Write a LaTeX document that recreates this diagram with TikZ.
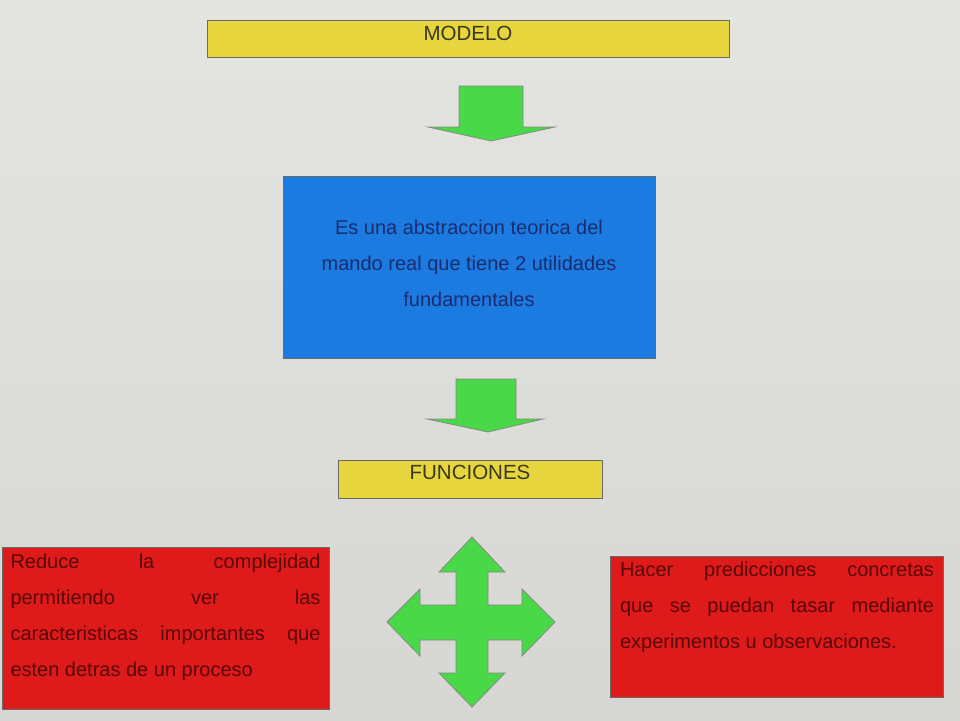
\documentclass[tikz,border=0pt]{standalone}
\usepackage{fontspec}
\setmainfont{Liberation Sans}
\hbadness=10000 \hfuzz=2pt
\definecolor{bgtop}{HTML}{E4E4E0}
\definecolor{bgbot}{HTML}{D6D6D2}
\definecolor{ylw}{HTML}{E6D53C}
\definecolor{blu}{HTML}{1C7BE0}
\definecolor{rd}{HTML}{DE1A1A}
\definecolor{grn}{HTML}{48D848}
\definecolor{edgegray}{HTML}{6A6A66}
\definecolor{txy}{HTML}{3A3820}
\definecolor{txb}{HTML}{1A2C70}
\definecolor{txr}{HTML}{5A0808}
\tikzset{
  box/.style={draw=edgegray, line width=0.8pt, inner sep=0pt},
  ybox/.style={box, fill=ylw, text=txy, font=\fontsize{20.5}{24}\selectfont, text height=14.7pt},
  bbox/.style={box, fill=blu},
  rbox/.style={box, fill=rd},
  bodytext/.style={inner sep=0pt, font=\fontsize{20}{36}\selectfont},
  blockarrow/.style={fill=grn, draw=edgegray!80, line width=0.8pt, line join=miter}
}
\begin{document}
\begin{tikzpicture}[x=1pt,y=-1pt]
\shade[top color=bgtop, bottom color=bgbot] (0,0) rectangle (960,720);
\useasboundingbox (0,0) rectangle (960,720);

\node[ybox, text depth=11.7pt, minimum width=522, minimum height=37] (modelo) at (468,38.5) {MODELO};

\path[blockarrow] (459,86) -- (523,86) -- (523,127) -- (555,127) -- (491,141)
  -- (428,127) -- (459,127) -- cycle;

\node[bbox, minimum width=372, minimum height=182] (desc) at (469,267) {};
\node[bodytext, text=txb, align=center] (desct) at (469,263)
  {Es una abstraccion teorica del\\mando real que tiene 2 utilidades\\fundamentales};

\path[blockarrow] (456,379) -- (516,379) -- (516,419) -- (543,419) -- (488,432)
  -- (427,419) -- (456,419) -- cycle;

\node[ybox, text depth=14.7pt, minimum width=264, minimum height=38] (func) at (470,479) {FUNCIONES};

\node[rbox, minimum width=327, minimum height=162] (redL) at (165.5,628) {};
\node[bodytext, text=txr, text width=310, align=justify, anchor=north] (redLt) at (165.5,553.5)
  {Reduce la complejidad\linebreak permitiendo ver las\linebreak caracteristicas importantes que\linebreak esten detras de un proceso};

\node[rbox, minimum width=333, minimum height=141] (redR) at (776.5,626.5) {};
\node[bodytext, text=txr, text width=314, align=justify, anchor=north] (redRt) at (777,561.5)
  {Hacer predicciones concretas\linebreak que se puedan tasar mediante\linebreak experimentos u observaciones.};

\path[blockarrow] (472,537) -- (505,572) -- (488,572) -- (488,605) -- (522,605)
  -- (522,589) -- (555,622) -- (522,656) -- (522,640) -- (488,640) -- (488,673)
  -- (505,673) -- (472,707) -- (439,673) -- (456,673) -- (456,640) -- (420,640)
  -- (420,656) -- (387,622) -- (420,589) -- (420,605) -- (456,605) -- (456,572)
  -- (439,572) -- cycle;
\end{tikzpicture}
\end{document}
